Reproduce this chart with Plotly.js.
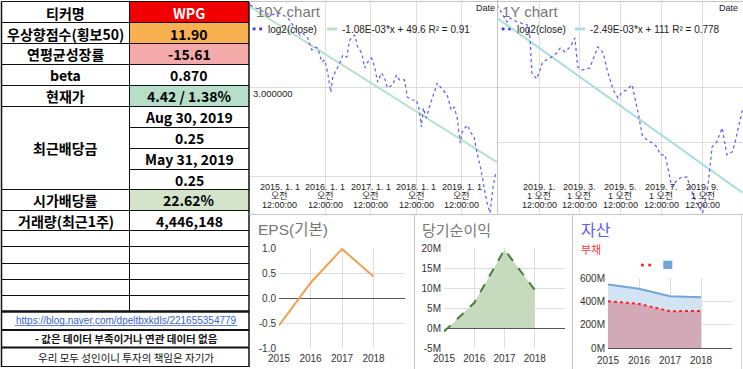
<!DOCTYPE html>
<html><head><meta charset="utf-8">
<script src="https://cdn.plot.ly/plotly-3.0.1.min.js"></script>
<style>html,body{margin:0;padding:0;background:#fff;}#chart{width:743px;height:369px;}</style>
</head><body><div id="chart"></div>
<script>
// ---------------- DATA ----------------
const tableLabels = ['티커명','우상향점수(횡보50)','연평균성장률','beta','현재가','최근배당금','시가배당률','거래량(최근1주)'];
const tableValues = ['WPG','11.90','-15.61','0.870','4.42 / 1.38%','Aug 30, 2019','0.25','May 31, 2019','0.25','22.62%','4,446,148'];
const linkText = 'https://blog.naver.com/dpeltbxkdls/221655354779';
const noteTexts = ['- 값은 데이터 부족이거나 연관 데이터 없음','우리 모두 성인이니 투자의 책임은 자기가'];

const tenYDates = ['2014-05-05','2014-07-24','2014-10-12','2015-01-01','2015-01-25','2015-03-05','2015-06-10','2015-07-03','2015-08-12','2015-09-14','2015-10-08','2015-11-01','2015-12-03','2015-12-27','2016-01-20','2016-02-13','2016-03-01','2016-04-01','2016-04-26','2016-05-20','2016-06-21','2016-07-15','2016-08-24','2016-09-17','2016-10-19','2016-11-12','2016-12-06','2017-01-07','2017-01-31','2017-02-24','2017-03-28','2017-04-21','2017-05-15','2017-06-24','2017-07-26','2017-08-19','2017-09-28','2017-10-22','2017-11-23','2018-01-02','2018-01-26','2018-02-11','2018-02-27','2018-03-23','2018-04-16','2018-05-26','2018-06-19','2018-07-21','2018-09-07','2018-10-09','2018-11-02','2018-11-26','2018-12-20','2019-01-05','2019-02-14','2019-03-18','2019-04-11','2019-05-05','2019-06-06','2019-06-30','2019-07-24','2019-08-17','2019-09-10','2019-10-04'];
const tenYLog2 = [3.92,3.865,3.81,3.83,3.81,3.775,3.585,3.607,3.55,3.417,3.45,3.44,3.283,3.305,3.16,2.947,3.115,3.194,3.272,3.361,3.339,3.529,3.585,3.45,3.384,3.216,3.283,3.328,3.227,3.059,3.16,3.104,2.992,3.026,3.138,3.082,3.082,2.891,2.858,2.858,2.746,2.556,2.768,2.657,2.78,2.947,3.048,2.992,2.914,2.746,2.78,2.657,2.377,2.5,2.578,2.489,2.444,2.265,2.075,1.885,1.706,1.594,1.885,2.053];
const tenYTrendDates = ['2014-05-05','2019-10-12'];
const tenYTrendVals = [3.90,2.164];
const tenYTicks = ['2015-01-01','2016-01-01','2017-01-01','2018-01-01','2019-01-01'];
const tenYTickL1 = ['2015. 1. 1','2016. 1. 1','2017. 1. 1','2018. 1. 1','2019. 1. 1'];
const tenYTickL2 = ['오전','오전','오전','오전','오전'];
const tenYTickL3 = ['12:00:00','12:00:00','12:00:00','12:00:00','12:00:00'];
const tenYGridVals = [2,3];
const tenYGridText = ['','3.000000'];
const tenYLegend = ['log2(close)','-1.08E-03*x + 49.6 R² = 0.91'];

const oneYDates = ['2018-10-30','2018-11-06','2018-11-14','2018-11-18','2018-11-29','2018-12-14','2018-12-18','2018-12-21','2018-12-28','2019-01-02','2019-01-06','2019-01-17','2019-01-27','2019-02-01','2019-02-08','2019-02-16','2019-02-23','2019-02-27','2019-03-05','2019-03-17','2019-03-25','2019-03-29','2019-04-06','2019-04-13','2019-04-21','2019-04-28','2019-05-04','2019-05-11','2019-05-19','2019-05-23','2019-05-28','2019-06-03','2019-06-10','2019-06-18','2019-06-25','2019-06-30','2019-07-07','2019-07-11','2019-07-17','2019-07-25','2019-08-01','2019-08-09','2019-08-13','2019-08-21','2019-08-28','2019-09-01','2019-09-09','2019-09-15','2019-09-22','2019-09-30','2019-10-07','2019-10-15','2019-10-19','2019-10-24','2019-10-30'];
const oneYLog2 = [2.749,2.705,2.656,2.678,2.656,2.640,2.574,2.378,2.345,2.394,2.438,2.460,2.487,2.514,2.493,2.520,2.569,2.411,2.394,2.405,2.487,2.520,2.487,2.378,2.285,2.241,2.274,2.285,2.313,2.247,2.160,2.040,2.013,1.996,1.974,1.931,1.931,1.865,1.756,1.794,1.810,1.810,1.756,1.685,1.641,1.614,1.767,1.974,2.002,2.078,1.931,1.947,1.996,2.084,2.176];
const oneYTrendDates = ['2018-10-30','2019-10-30'];
const oneYTrendVals = [2.678,1.725];
const oneYTicks = ['2019-01-01','2019-03-01','2019-05-01','2019-07-01','2019-09-01'];
const oneYTickL1 = ['2019. 1.','2019. 3.','2019. 5.','2019. 7.','2019. 9.'];
const oneYTickL2 = ['1 오전','1 오전','1 오전','1 오전','1 오전'];
const oneYTickL3 = ['12:00:00','12:00:00','12:00:00','12:00:00','12:00:00'];
const oneYGridVals = [2.0,2.3];
const oneYLegend = ['log2(close)','-2.49E-03*x + 111 R² = 0.778'];

const years = [2015,2016,2017,2018];
const yearTicks = [2015,2016,2017,2018,2019];
const yearTickText = ['2015','2016','2017','2018',''];
const eps = [-0.55,0.30,0.98,0.43];
const epsTicks = [-1,-0.5,0,0.5,1];
const epsTickText = ['-1.0','-0.5','0.0','0.5','1.0'];
const netIncome = [-0.9e6,6.3e6,19.6e6,9.5e6];
const niTicks = [-5e6,0,5e6,10e6,15e6,20e6];
const niTickText = ['-5M','0M','5M','10M','15M','20M'];
const assets = [545e6,508e6,443e6,434e6];
const liabilities = [400e6,378e6,315e6,318e6];
const assetTicks = [0,200e6,400e6,600e6];
const assetTickText = ['0M','200M','400M','600M'];
const chartTitles = ['10Y chart','1Y chart','EPS(기본)','당기순이익','자산','부채'];

// ---------------- HELPERS ----------------
const W=743,H=369;
const fx=p=>p/W, fy=p=>1-p/H;
const FONT='"Liberation Sans", Arial, "Noto Sans CJK KR", sans-serif';
const KFONT='"Noto Sans CJK KR", "Noto Sans", sans-serif';

const traces = [
  {x:tenYTrendDates,y:tenYTrendVals,xaxis:'x',yaxis:'y',mode:'lines',line:{color:'#b5e2c9',width:2},hoverinfo:'skip'},
  {x:tenYDates,y:tenYLog2,xaxis:'x',yaxis:'y',mode:'lines',line:{color:'#5a5aff',width:1.2,dash:'dot'}},
  {x:oneYTrendDates,y:oneYTrendVals,xaxis:'x2',yaxis:'y2',mode:'lines',line:{color:'#abdede',width:2},hoverinfo:'skip'},
  {x:oneYDates,y:oneYLog2,xaxis:'x2',yaxis:'y2',mode:'lines',line:{color:'#5a5aff',width:1.2,dash:'dot'}},
  {x:years,y:eps,xaxis:'x3',yaxis:'y3',mode:'lines',line:{color:'#f2a04c',width:2}},
  {x:years,y:netIncome,xaxis:'x4',yaxis:'y4',mode:'lines',fill:'tozeroy',fillcolor:'#c6dbbd',line:{color:'#4b7d39',width:2,dash:'dash'}},
  {x:years,y:assets,xaxis:'x5',yaxis:'y5',mode:'lines',fill:'tozeroy',fillcolor:'#d2e4f3',line:{color:'#72a6d8',width:2}},
  {x:years,y:liabilities,xaxis:'x5',yaxis:'y5',mode:'lines',fill:'tozeroy',fillcolor:'#d3a9b8',line:{color:'#ff2020',width:2,dash:'dot'}}
];

const gridC='#dedede';
const tickF={family:FONT,size:10,color:'#333'};
function botX(x0,x1,anchor){return {domain:[fx(x0),fx(x1)],range:[2015,2019],tickvals:yearTicks,ticktext:yearTickText,showgrid:true,gridcolor:gridC,zeroline:false,ticks:'',tickfont:tickF,anchor:anchor,ticklabelstandoff:3,fixedrange:true};}
function botY(y0,y1,range,tv,tt,anchor){return {domain:[fy(y1),fy(y0)],range:range,tickvals:tv,ticktext:tt,showgrid:true,gridcolor:gridC,zeroline:true,zerolinecolor:'#555',zerolinewidth:1,ticks:'',tickfont:tickF,anchor:anchor,ticklabelstandoff:2,fixedrange:true};}

const layout = {
  width:W,height:H,margin:{l:0,r:0,t:0,b:0},paper_bgcolor:'#fff',plot_bgcolor:'rgba(0,0,0,0)',
  showlegend:false,font:{family:FONT,size:10,color:'#222'},
  xaxis:{domain:[fx(250),fx(497)],type:'date',range:['2014-05-05','2019-10-12'],tickvals:tenYTicks,showticklabels:false,showgrid:true,gridcolor:gridC,zeroline:false,anchor:'y'},
  yaxis:{domain:[fy(215),fy(2)],range:[1.572,3.954],tickvals:tenYGridVals,ticktext:tenYGridText,showgrid:true,gridcolor:gridC,zeroline:false,ticklabelposition:'inside bottom',tickfont:{family:FONT,size:9.5,color:'#222'},anchor:'x'},
  xaxis2:{domain:[fx(497),1],type:'date',range:['2018-10-30','2019-10-31'],tickvals:oneYTicks,showticklabels:false,showgrid:true,gridcolor:gridC,zeroline:false,anchor:'y2'},
  yaxis2:{domain:[fy(215),fy(2)],range:[1.603,2.765],tickvals:oneYGridVals,showticklabels:false,showgrid:true,gridcolor:gridC,zeroline:false,anchor:'x2'},
  xaxis3:botX(279,405,'y3'),
  yaxis3:botY(248,348,[-1,1],epsTicks,epsTickText,'x3'),
  xaxis4:botX(444,565,'y4'),
  yaxis4:botY(248,348,[-5e6,20e6],niTicks,niTickText,'x4'),
  xaxis5:Object.assign(botX(608,732,'y5'),{showline:true,linecolor:'#555',linewidth:1}),
  yaxis5:botY(278,348,[0,600e6],assetTicks,assetTickText,'x5'),
  shapes:[],annotations:[]
};
const S=layout.shapes, A=layout.annotations;
function rect(x0,y0,x1,y1,fill){S.push({type:'rect',xref:'paper',yref:'paper',x0:fx(x0),x1:fx(x1),y0:fy(y1),y1:fy(y0),fillcolor:fill,line:{width:0},layer:'below'});}
function hl(x0,x1,y,c,w){S.push({type:'line',xref:'paper',yref:'paper',x0:fx(x0),x1:fx(x1),y0:fy(y),y1:fy(y),line:{color:c,width:w}});}
function vl(x,y0,y1,c,w){S.push({type:'line',xref:'paper',yref:'paper',x0:fx(x),x1:fx(x),y0:fy(y0),y1:fy(y1),line:{color:c,width:w}});}
function txt(t,x,y,opt){A.push(Object.assign({text:t,xref:'paper',yref:'paper',x:fx(x),y:fy(y),showarrow:false,xanchor:'center',yanchor:'middle',borderpad:0,font:{family:KFONT,size:14,color:'#000'}},opt||{}));}

// ---------------- TABLE ----------------
const CL=1.5, CM=129.5, CR=249;
const valueFills = ['#f00000','#f8b050','#f5aaaa',null,'#b7dec8',null,null,null,null,'#d3e4cb',null];
const valueRows = [[1.5,22.5],[22.5,43.5],[43.5,64],[64,85],[85,106],[106,127],[127,148],[148,169],[169,189.5],[189.5,210],[210,230.5]];
const labelRows = [[1.5,22.5],[22.5,43.5],[43.5,64],[64,85],[85,106],[106,189.5],[189.5,210],[210,230.5]];
valueRows.forEach((r,i)=>{ if(valueFills[i]) rect(CM,r[0],CR,r[1],valueFills[i]); });
labelRows.forEach((r,i)=>{ txt('<b>'+tableLabels[i]+'</b>',(CL+CM)/2,(r[0]+r[1])/2+0.5); });
valueRows.forEach((r,i)=>{ txt('<b>'+tableValues[i]+'</b>',(CM+CR)/2,(r[0]+r[1])/2+0.5,i===0?{font:{family:KFONT,size:14,color:'#fff'}}:{}); });
const fullLines=[1.5,22.5,43.5,64.5,85.5,106.5,189.5,210.5,230.5,246.5,263.5,279.5,295.5,366.5];
fullLines.forEach(y=>hl(CL,CR,y,'#111',1));
[127.5,148.5,169.5].forEach(y=>hl(CM,CR,y,'#111',1));
hl(CL,CR,311.5,'#111',2.5); hl(CL,CR,330,'#111',2); hl(CL,CR,347.5,'#111',2);
vl(CL,1.5,367,'#111',1.5); vl(CR,1.5,367,'#111',1.5); vl(CM,1.5,311,'#111',1);
txt(linkText,126,320.3,{font:{family:FONT,size:10,color:'#3a63c9'}});
hl(15,237,325.5,'#3a63c9',0.8);
txt('<b>'+noteTexts[0]+'</b>',126,338.7,{font:{family:KFONT,size:10.5,color:'#111'}});
txt(noteTexts[1],126,357.5,{font:{family:KFONT,size:10.5,color:'#111'}});

// ---------------- PANEL BORDERS ----------------
const bc='#c4c4c4';
hl(249,743,1.5,bc,1); hl(249,743,214.5,bc,1);
vl(497.5,0,214.5,bc,1); vl(414.5,214.5,369,bc,1); vl(572.5,214.5,369,bc,1); vl(741.5,214.5,369,'#d8d8d8',1);

// ---------------- TOP CHART TEXT ----------------
txt(chartTitles[0],255,11,{xanchor:'left',font:{family:FONT,size:15,color:'#777'}});
txt(chartTitles[1],501,11,{xanchor:'left',font:{family:FONT,size:15,color:'#777'}});
txt('Date',496,8,{xanchor:'right',font:{family:FONT,size:9,color:'#222'}});
txt('Date',739,8,{xanchor:'right',font:{family:FONT,size:9,color:'#222'}});
function legend(x0,labels,lineX0,textX1,lineColor){
  rect(x0,27.5,x0+2.8,30.3,'#3535ff'); rect(x0+6.5,27.5,x0+9.3,30.3,'#3535ff');
  txt(labels[0],x0+14,29.2,{xanchor:'left',font:{family:FONT,size:10,color:'#222'}});
  S.push({type:'line',xref:'paper',yref:'paper',x0:fx(lineX0),x1:fx(lineX0+10),y0:fy(29),y1:fy(29),line:{color:lineColor,width:3}});
  txt(labels[1],textX1,29.2,{xanchor:'left',font:{family:FONT,size:10,color:'#222'}});
}
legend(252.7,tenYLegend,327,341,'#b5e2c9');
legend(501.7,oneYLegend,575,589,'#abdede');
const tl=[186.5,195.8,205];
[[tenYTicks,[tenYTickL1,tenYTickL2,tenYTickL3],'x'],[oneYTicks,[oneYTickL1,oneYTickL2,oneYTickL3],'x2']].forEach(g=>{
  g[0].forEach((d,i)=>{ g[1].forEach((arr,k)=>{
    A.push({text:arr[i],xref:g[2],yref:'paper',x:d,y:fy(tl[k]),showarrow:false,xanchor:'center',yanchor:'middle',borderpad:0,font:{family:FONT,size:9,color:'#222'}});
  });});
});

// ---------------- BOTTOM CHART TEXT ----------------
txt(chartTitles[2],257,230,{xanchor:'left',font:{family:FONT,size:15.5,color:'#777'}});
txt(chartTitles[3],421,230,{xanchor:'left',font:{family:KFONT,size:15,color:'#777'}});
txt(chartTitles[4],580,229,{xanchor:'left',font:{family:KFONT,size:16,color:'#5a5aff'}});
txt(chartTitles[5],580,249,{xanchor:'left',font:{family:KFONT,size:11,color:'#ff3535'}});
rect(641,263.7,643.8,266.4,'#ff2020'); rect(648.3,263.7,651,266.4,'#ff2020');
rect(663.3,260.7,672.3,269,'#72a6d8');

Plotly.newPlot('chart',traces,layout,{staticPlot:true,displayModeBar:false});
</script></body></html>
